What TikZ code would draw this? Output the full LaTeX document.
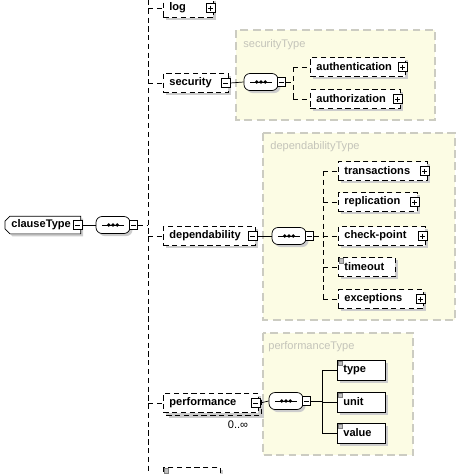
\documentclass[tikz,border=0pt]{standalone}
\usepackage{fontspec}
\setmainfont{Liberation Sans}
\usetikzlibrary{shadows}
\definecolor{SchemaYellow}{RGB}{252,252,228}
\definecolor{SchemaFrame}{RGB}{204,204,194}
\definecolor{SchemaTitle}{RGB}{196,196,186}
\definecolor{SchemaShadow}{RGB}{205,205,205}

\begin{document}
\begin{tikzpicture}[x=0.02cm,y=-0.02cm,
    elem/.style={draw,densely dashed,fill=white,anchor=west,align=left,text width=#1,
      inner xsep=0.12cm,inner ysep=0pt,minimum height=0.38cm,
      font=\fontsize{6.3}{7}\selectfont\bfseries,
      drop shadow={shadow xshift=0.05cm,shadow yshift=-0.05cm,fill=SchemaShadow,opacity=1}},
    reqelem/.style={elem=#1,solid,minimum height=0.40cm},
    seqbox/.style={draw,fill=white,rounded corners=0.12cm,minimum width=0.68cm,minimum height=0.34cm,inner sep=0pt,
      drop shadow={shadow xshift=0.05cm,shadow yshift=-0.05cm,fill=SchemaShadow,opacity=1},
      path picture={
        \draw[black,line width=0.5pt] ([xshift=-0.22cm]path picture bounding box.center) -- ([xshift=0.22cm]path picture bounding box.center);
        \foreach \dx in {-0.085,0,0.085} \fill[black] ([xshift=\dx cm]path picture bounding box.center) circle (0.037cm);
      }},
    iconbox/.style={draw,solid,fill=white,minimum size=0.17cm,inner sep=0pt},
    plusicon/.style={iconbox,path picture={
        \draw ([xshift=0.035cm]path picture bounding box.west) -- ([xshift=-0.035cm]path picture bounding box.east);
        \draw ([yshift=-0.035cm]path picture bounding box.north) -- ([yshift=0.035cm]path picture bounding box.south);}},
    minusicon/.style={iconbox,path picture={
        \draw ([xshift=0.035cm]path picture bounding box.west) -- ([xshift=-0.035cm]path picture bounding box.east);}},
    simpleicon/.style={fill=gray!50,draw=gray,minimum size=0.09cm,inner sep=0pt},
    typeframe/.style={draw=SchemaFrame,fill=SchemaYellow,line width=0.8pt,dash pattern=on 4.5pt off 2.5pt},
    typetitle/.style={anchor=west,inner sep=0pt,text=SchemaTitle,font=\fontsize{6.3}{7}\selectfont},
    roottext/.style={anchor=west,align=left,text width=1.26cm,inner xsep=0.12cm,inner ysep=0pt,minimum height=0.34cm,
      font=\fontsize{6.3}{7}\selectfont\bfseries},
    link/.style={densely dashed}]

  \useasboundingbox (0,0) rectangle (474,474);

  % complex type frames
  \draw[typeframe] (236,30) rectangle (435,120);
  \draw[typeframe] (263,133) rectangle (455,320);
  \draw[typeframe] (263,333) rectangle (413,455);
  \node[typetitle] (sectitle) at (243,45) {securityType};
  \node[typetitle] (deptitle) at (270,147) {dependabilityType};
  \node[typetitle] (perftitle) at (268,347) {performanceType};

  % main sequence spine
  \coordinate (spine) at (148,0);
  \coordinate (spine end) at (148,474);
  \draw[link] (spine) -- (spine end);

  % root, left corners cut
  \node[roottext] (clause) at (5,225) {\phantom{clauseType}};
  \fill[SchemaShadow] ([shift={(0.05cm,-0.05cm)}]clause.north east) -- ([shift={(0.15cm,-0.05cm)}]clause.north west)
    -- ([shift={(0.05cm,-0.15cm)}]clause.north west) -- ([shift={(0.05cm,0.05cm)}]clause.south west)
    -- ([shift={(0.15cm,-0.05cm)}]clause.south west) -- ([shift={(0.05cm,-0.05cm)}]clause.south east) -- cycle;
  \draw[fill=white] (clause.north east) -- ([xshift=0.1cm]clause.north west) -- ([yshift=-0.1cm]clause.north west)
    -- ([yshift=0.1cm]clause.south west) -- ([xshift=0.1cm]clause.south west) -- (clause.south east) -- cycle;
  \node[roottext] (clausetext) at (clause.west) {clauseType};
  \node[minusicon] (clauseicon) at ([xshift=-0.06cm]clause.east) {};
  \node[seqbox] (mainseq) at (113,225) {};
  \node[minusicon] (mainseqicon) at ([xshift=0.06cm]mainseq.east) {};
  \draw (clauseicon.east) -- (mainseq.west);
  \draw[link] (mainseqicon.east) -- (mainseqicon.east -| spine);

  % children of clauseType
  \node[elem=0.76cm] (log) at (163,8) {log};
  \node[elem=1.06cm] (security) at (163,83) {security};
  \node[elem=1.60cm] (dependability) at (163,236) {dependability};
  \node[elem=1.66cm,fill=none,drop shadow={opacity=0}] (perfstack) at (166,406) {\phantom{performance}};
  \node[elem=1.66cm] (performance) at (163,403) {performance};
  \node[elem=0.90cm] (bottomelem) at (163,477) {};
  \node[simpleicon] (bottomicon) at ([shift={(0.07cm,-0.07cm)}]bottomelem.north west) {};
  \node[font=\fontsize{6.3}{7}\selectfont] (perfcount) at (238,425) {0..∞};
  \foreach \n in {log,security,dependability,performance,bottomelem}
    \draw[link] (spine |- \n.west) -- (\n.west);

  \node[plusicon] (logicon) at ([xshift=-0.06cm]log.east) {};
  \node[minusicon] (securityicon) at ([xshift=-0.06cm]security.east) {};
  \node[minusicon] (dependabilityicon) at ([xshift=-0.06cm]dependability.east) {};
  \node[minusicon] (performanceicon) at ([xshift=-0.06cm]performance.east) {};

  % securityType
  \node[seqbox] (secseq) at (261,82) {};
  \node[minusicon] (secseqicon) at ([xshift=0.06cm]secseq.east) {};
  \draw (securityicon.east) -- (secseq.west);
  \coordinate (secfork) at (293,82);
  \draw[link] (secseqicon.east) -- (secfork);
  \node[elem=1.66cm] (authentication) at (310,67) {authentication};
  \node[elem=1.56cm] (authorization) at (310,99) {authorization};
  \draw[link] (secfork |- authentication.west) -- (secfork |- authorization.west);
  \foreach \n in {authentication,authorization} {
    \draw[link] (secfork |- \n.west) -- (\n.west);
    \node[plusicon] (\n icon) at ([xshift=-0.06cm]\n.east) {};
  }

  % dependabilityType
  \node[seqbox] (depseq) at (289,236) {};
  \node[minusicon] (depseqicon) at ([xshift=0.06cm]depseq.east) {};
  \draw (dependabilityicon.east) -- (depseq.west);
  \coordinate (depfork) at (323,236);
  \draw[link] (depseqicon.east) -- (depfork);
  \node[elem=1.54cm] (transactions) at (338,171) {transactions};
  \node[elem=1.34cm] (replication) at (338,202) {replication};
  \node[elem=1.50cm] (checkpoint) at (338,236) {check-point};
  \node[elem=0.90cm] (timeout) at (338,267) {timeout};
  \node[elem=1.46cm] (exceptions) at (338,299) {exceptions};
  \draw[link] (depfork |- transactions.west) -- (depfork |- exceptions.west);
  \foreach \n in {transactions,replication,checkpoint,timeout,exceptions}
    \draw[link] (depfork |- \n.west) -- (\n.west);
  \foreach \n in {transactions,replication,checkpoint,exceptions}
    \node[plusicon] (\n icon) at ([xshift=-0.06cm]\n.east) {};
  \node[simpleicon] (timeouticon) at ([shift={(0.07cm,-0.07cm)}]timeout.north west) {};

  % performanceType
  \node[seqbox] (perfseq) at (286,401) {};
  \node[minusicon] (perfseqicon) at ([xshift=0.06cm]perfseq.east) {};
  \draw (performanceicon.east) -- (perfseq.west);
  \coordinate (perffork) at (322,401);
  \draw (perfseqicon.east) -- (perffork);
  \node[reqelem=0.72cm] (type) at (337,370) {type};
  \node[reqelem=0.72cm] (unit) at (337,402) {unit};
  \node[reqelem=0.72cm] (value) at (337,433) {value};
  \draw (perffork |- type.west) -- (perffork |- value.west);
  \foreach \n in {type,unit,value} {
    \draw (perffork |- \n.west) -- (\n.west);
    \node[simpleicon] (\n icon) at ([shift={(0.07cm,-0.07cm)}]\n.north west) {};
  }
\end{tikzpicture}
\end{document}
